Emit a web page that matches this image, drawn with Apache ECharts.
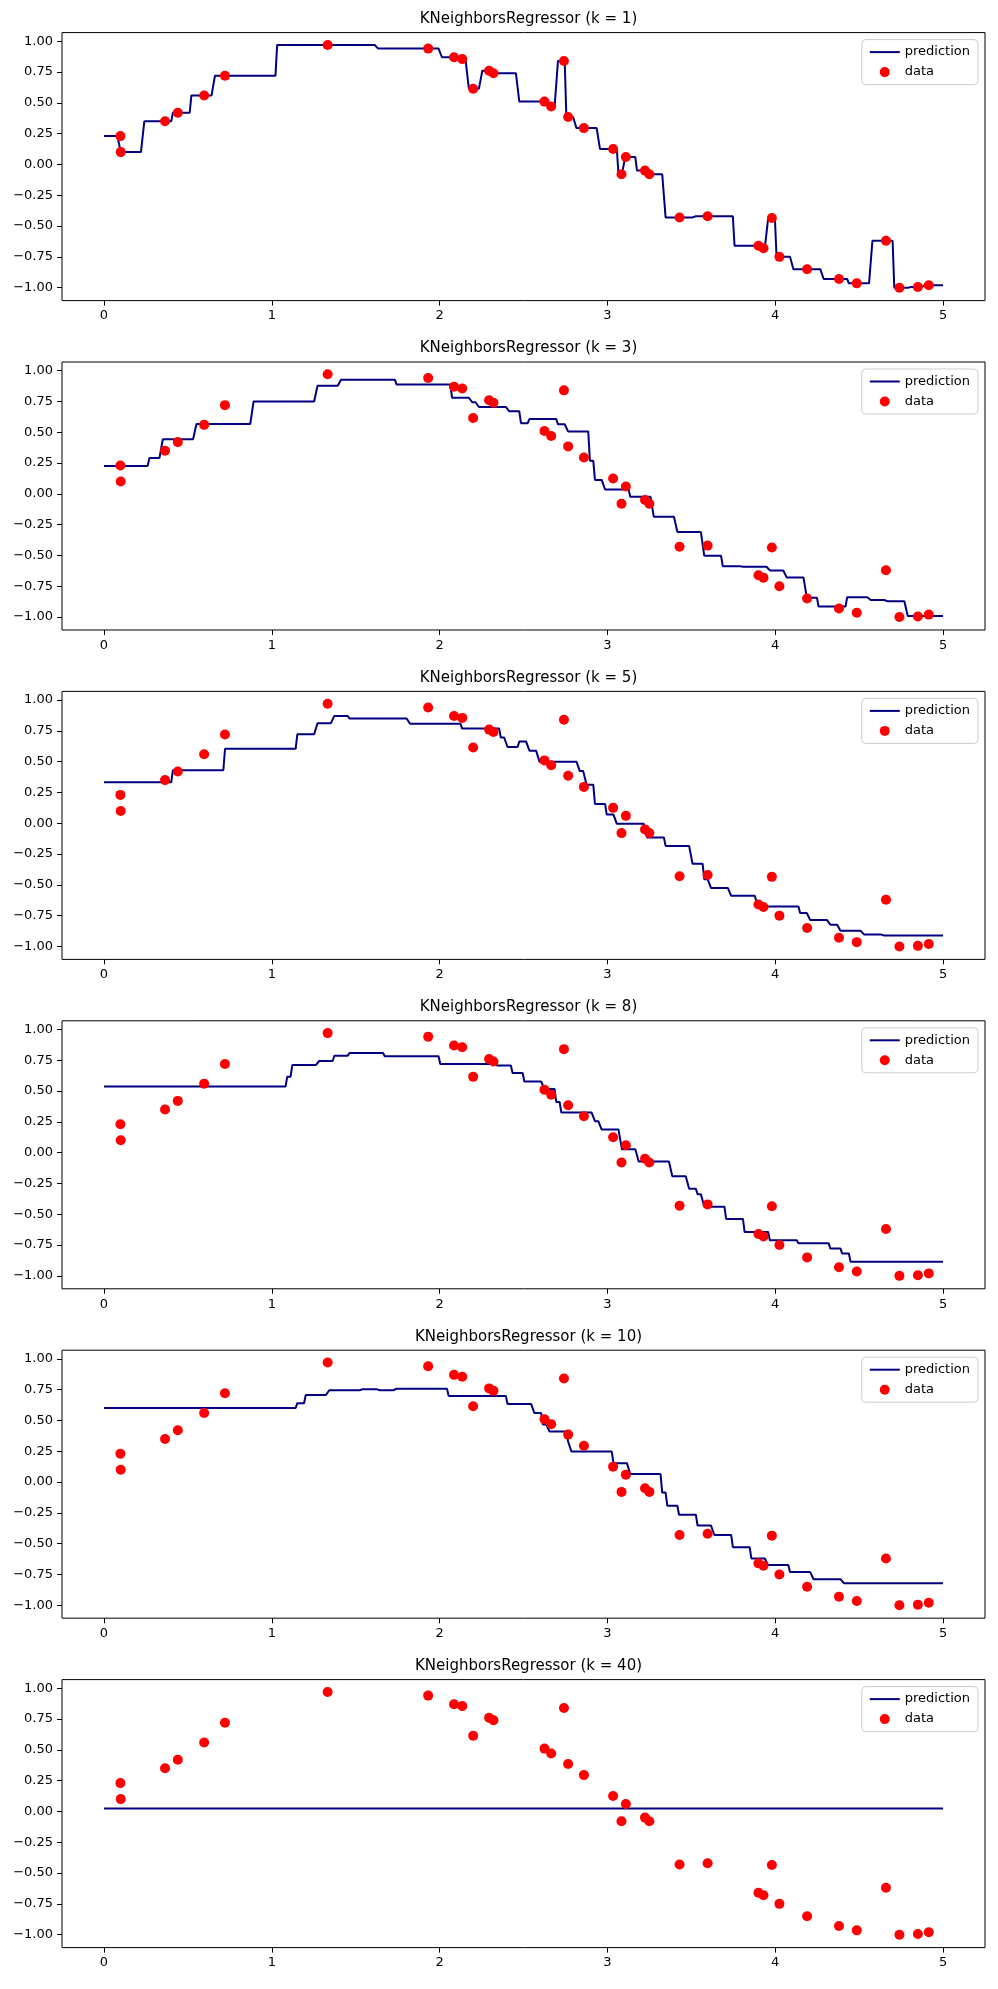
<!DOCTYPE html>
<html><head><meta charset="utf-8">
<script src="https://cdn.jsdelivr.net/npm/echarts@6/dist/echarts.min.js"></script>
<style>html,body{margin:0;padding:0;background:#fff}#c{width:998px;height:1989px}</style>
</head><body><div id="c"></div>
<script>
const dataX = [0.098,0.100,0.364,0.440,0.597,0.721,1.333,1.932,2.086,2.135,2.200,2.295,2.321,2.625,2.665,2.741,2.766,2.860,3.034,3.084,3.110,3.224,3.250,3.430,3.597,3.900,3.930,3.980,4.025,4.190,4.380,4.486,4.660,4.740,4.850,4.915];
const dataY = [0.23,0.10,0.35,0.42,0.56,0.72,0.97,0.94,0.87,0.855,0.615,0.76,0.74,0.51,0.47,0.84,0.385,0.295,0.125,-0.08,0.06,-0.05,-0.08,-0.43,-0.42,-0.66,-0.68,-0.435,-0.75,-0.85,-0.93,-0.965,-0.62,-1.0,-0.995,-0.98];
const kValues = [1,3,5,8,10,40];
const xTicks = [0,1,2,3,4,5];
const yTicks = [-1.00,-0.75,-0.50,-0.25,0.00,0.25,0.50,0.75,1.00];

const T = []; for (let i=0;i<500;i++) T.push(5*i/499);
function knn(k){
  return T.map(t=>{
    const d = dataX.map((x,i)=>[Math.abs(x-t),i]).sort((a,b)=>a[0]-b[0]);
    const kk = Math.min(k,d.length);
    let s=0; for(let j=0;j<kk;j++) s+=dataY[d[j][1]];
    return [t,s/kk];
  });
}

const chart = echarts.init(document.getElementById('c'),null,{renderer:'canvas'});
const top0=32.6, step=329.4, h=268, left=62, w=923;
const grids=[],xAxes=[],yAxes=[],series=[],titles=[],legends=[];
const font='DejaVu Sans';
kValues.forEach((k,i)=>{
  const t=top0+step*i;
  grids.push({left:left,top:t,width:w,height:h,show:true,borderColor:'#000',borderWidth:1,backgroundColor:'transparent'});
  xAxes.push({type:'value',gridIndex:i,min:-0.25,max:5.25,position:'bottom',
    axisLine:{show:false,onZero:false},splitLine:{show:false},
    axisTick:{show:true,length:5,lineStyle:{color:'#000'},customValues:xTicks},
    axisLabel:{color:'#000',fontSize:13,fontFamily:font,margin:9,customValues:xTicks,formatter:v=>String(v)}});
  yAxes.push({type:'value',gridIndex:i,min:-1.105,max:1.07,position:'left',
    axisLine:{show:false,onZero:false},splitLine:{show:false},
    axisTick:{show:true,length:5,lineStyle:{color:'#000'},customValues:yTicks},
    axisLabel:{color:'#000',fontSize:13,fontFamily:font,margin:9,customValues:yTicks,
      formatter:v=>(v<0?'\u2212':'')+Math.abs(v).toFixed(2)}});
  titles.push({text:'KNeighborsRegressor (k = '+k+')',left:left+w/2,top:t-26,textAlign:'center',
    textStyle:{fontSize:15,fontWeight:'normal',color:'#000',fontFamily:font}});
  series.push({name:'prediction',type:'line',xAxisIndex:i,yAxisIndex:i,data:knn(k),showSymbol:false,
    lineStyle:{color:'#000080',width:2},itemStyle:{color:'#000080'},z:2,silent:true});
  series.push({name:'data',type:'scatter',xAxisIndex:i,yAxisIndex:i,data:dataX.map((x,j)=>[x,dataY[j]]),
    symbolSize:10,itemStyle:{color:'#ff0000',opacity:1},z:3,silent:true});
  legends.push({right:998-left-w+7,top:t+7,orient:'vertical',itemGap:7,itemWidth:30,itemHeight:10,
    backgroundColor:'rgba(255,255,255,0.8)',borderColor:'#ccc',borderWidth:1,borderRadius:4,padding:[6,8,6,8],
    textStyle:{fontSize:13,fontFamily:font,color:'#000'},
    data:[{name:'prediction',icon:'path://M0,4L30,4L30,6L0,6Z',itemStyle:{color:'#000080',opacity:1}},{name:'data',icon:'circle',itemStyle:{color:'#ff0000',opacity:1}}]});
});
chart.setOption({animation:false,title:titles,grid:grids,xAxis:xAxes,yAxis:yAxes,series:series,legend:legends});
</script></body></html>
